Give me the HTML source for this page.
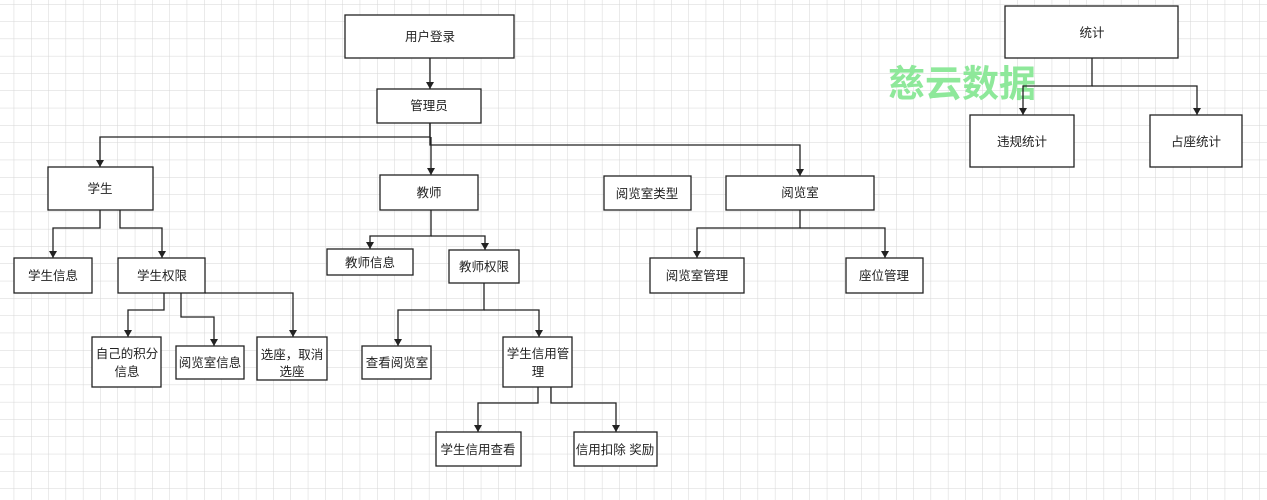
<!DOCTYPE html>
<html><head><meta charset="utf-8"><style>
html,body{margin:0;padding:0;background:#fff;}
svg{display:block;}
text{font-family:"Liberation Sans","Noto Sans CJK SC",sans-serif;font-size:12.5px;fill:#222;text-anchor:middle;dominant-baseline:central;}
</style></head><body>
<svg width="1267" height="500" viewBox="0 0 1267 500" xmlns="http://www.w3.org/2000/svg">
<defs>
<pattern id="g" x="13.7" y="4" width="17.3" height="17.3" patternUnits="userSpaceOnUse">
<path d="M0 0H17.3M0 0V17.3" stroke="#d6d6d6" stroke-width="1" fill="none"/>
</pattern>
</defs>
<rect width="1267" height="500" fill="#fff"/>
<rect width="1267" height="500" fill="url(#g)"/>
<text x="962" y="84" style="font-size:37px;font-weight:bold;fill:#8ee89a;">慈云数据</text>
<g stroke="#222" stroke-width="1.3" fill="none">
<path d="M430 58V89"/>
<path d="M430 123V137H100V167"/>
<path d="M430 123V145H800V176"/>
<path d="M431 137V175"/>
<path d="M100 210V228H53V258"/>
<path d="M120 210V228H162V258"/>
<path d="M164 293V310H128V337"/>
<path d="M181 293V317H214V346"/>
<path d="M205 293H293V337"/>
<path d="M431 210V236H370V249"/>
<path d="M431 236H485V250"/>
<path d="M484 283V310H398V346"/>
<path d="M484 310H539V337"/>
<path d="M538 387V403H478V432"/>
<path d="M551 387V403H616V432"/>
<path d="M800 210V228H697V258"/>
<path d="M800 228H885V258"/>
<path d="M1092 58V86H1023V115"/>
<path d="M1092 86H1197V115"/>
</g>
<g fill="#222">
<path d="M426 82L434 82L430 89Z"/>
<path d="M96 160L104 160L100 167Z"/>
<path d="M796 169L804 169L800 176Z"/>
<path d="M427 168L435 168L431 175Z"/>
<path d="M49 251L57 251L53 258Z"/>
<path d="M158 251L166 251L162 258Z"/>
<path d="M124 330L132 330L128 337Z"/>
<path d="M210 339L218 339L214 346Z"/>
<path d="M289 330L297 330L293 337Z"/>
<path d="M366 242L374 242L370 249Z"/>
<path d="M481 243L489 243L485 250Z"/>
<path d="M394 339L402 339L398 346Z"/>
<path d="M535 330L543 330L539 337Z"/>
<path d="M474 425L482 425L478 432Z"/>
<path d="M612 425L620 425L616 432Z"/>
<path d="M693 251L701 251L697 258Z"/>
<path d="M881 251L889 251L885 258Z"/>
<path d="M1019 108L1027 108L1023 115Z"/>
<path d="M1193 108L1201 108L1197 115Z"/>
</g>
<g stroke="#222" stroke-width="1.3" fill="#fff">
<rect x="345" y="15" width="169" height="43"/>
<rect x="377" y="89" width="104" height="34"/>
<rect x="48" y="167" width="105" height="43"/>
<rect x="380" y="175" width="98" height="35"/>
<rect x="604" y="176" width="87" height="34"/>
<rect x="726" y="176" width="148" height="34"/>
<rect x="1005" y="6" width="173" height="52"/>
<rect x="970" y="115" width="104" height="52"/>
<rect x="1150" y="115" width="92" height="52"/>
<rect x="14" y="258" width="78" height="35"/>
<rect x="118" y="258" width="87" height="35"/>
<rect x="327" y="249" width="86" height="26"/>
<rect x="449" y="250" width="70" height="33"/>
<rect x="650" y="258" width="94" height="35"/>
<rect x="846" y="258" width="77" height="35"/>
<rect x="92" y="337" width="69" height="50"/>
<rect x="176" y="346" width="68" height="33"/>
<rect x="257" y="337" width="70" height="43"/>
<rect x="362" y="346" width="69" height="33"/>
<rect x="503" y="337" width="69" height="50"/>
<rect x="436" y="432" width="85" height="34"/>
<rect x="574" y="432" width="83" height="34"/>
</g>
<text x="430" y="37">用户登录</text>
<text x="429" y="106">管理员</text>
<text x="100" y="189">学生</text>
<text x="429" y="193">教师</text>
<text x="647" y="194">阅览室类型</text>
<text x="800" y="193">阅览室</text>
<text x="1092" y="33">统计</text>
<text x="1022" y="142">违规统计</text>
<text x="1196" y="142">占座统计</text>
<text x="53" y="276">学生信息</text>
<text x="162" y="276">学生权限</text>
<text x="370" y="263">教师信息</text>
<text x="484" y="267">教师权限</text>
<text x="697" y="276">阅览室管理</text>
<text x="884" y="276">座位管理</text>
<text x="127" y="354">自己的积分</text>
<text x="127" y="372">信息</text>
<text x="210" y="363">阅览室信息</text>
<text x="292" y="355">选座，取消</text>
<text x="292" y="372">选座</text>
<text x="397" y="363">查看阅览室</text>
<text x="538" y="354">学生信用管</text>
<text x="538" y="372">理</text>
<text x="478" y="450">学生信用查看</text>
<text x="615" y="450">信用扣除 奖励</text>
</svg>
</body></html>
